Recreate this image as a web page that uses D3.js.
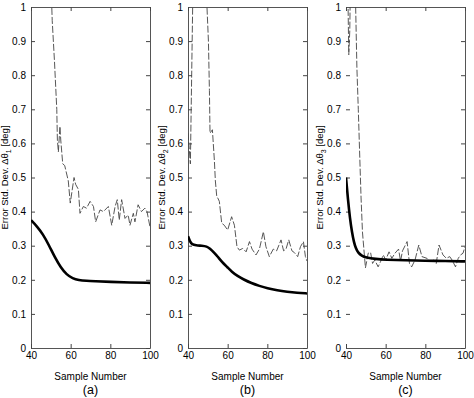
<!DOCTYPE html>
<html>
<head>
<meta charset="utf-8">
<script src="https://cdn.jsdelivr.net/npm/d3@7"></script>
<style>
  body { margin: 0; background: #fff; }
  svg { font-family: "Liberation Sans", Arial, Helvetica, sans-serif; }
  .tick text { font-size: 10px; fill: #000; }
</style>
</head>
<body>
<div class="chart"></div>
<script>
// tick labels
const xTicks = [40, 60, 80, 100]
const yTicks = [0, 0.1, 0.2, 0.3, 0.4, 0.5, 0.6, 0.7, 0.8, 0.9, 1]
const panelLabels = ['(a)', '(b)', '(c)']
const subscripts = ['1', '2', '3']

// (a) measured error (dashed) and predicted (thick)
const aDashX = [50.2, 50.7, 51.8, 53.0, 53.3, 53.8, 54.6, 55.0, 56.0, 57.0, 58.8, 59.8, 61.7, 62.5, 63.9, 64.7, 66.4, 68, 69.8, 71.5, 72.6, 74.8, 76.5, 79, 80.7, 82.4, 83.5, 84.5, 85.7, 87.4, 89, 89.9, 91.6, 92.4, 94, 95.7, 97.4, 98.5, 100]
const aDashY = [1.05, 0.96, 0.845, 0.70, 0.61, 0.575, 0.65, 0.61, 0.54, 0.535, 0.49, 0.425, 0.50, 0.48, 0.465, 0.395, 0.415, 0.41, 0.43, 0.415, 0.37, 0.405, 0.40, 0.415, 0.36, 0.415, 0.435, 0.375, 0.435, 0.38, 0.39, 0.36, 0.395, 0.37, 0.42, 0.40, 0.41, 0.40, 0.355]
const aFitX = [40, 43, 46, 49, 52, 55, 58, 61, 64, 68, 72, 80, 90, 100]
const aFitY = [0.375, 0.357, 0.334, 0.302, 0.266, 0.236, 0.215, 0.204, 0.199, 0.197, 0.196, 0.194, 0.192, 0.191]

// (b)
const bDashX = [40, 41.2, 42.6, 49.2, 50.3, 50.8, 51.1, 52.3, 53.3, 53.8, 54.5, 55, 55.8, 57, 58.3, 60, 62, 63.4, 64.7, 65.9, 67.6, 69.3, 71, 72.3, 74.3, 76, 78, 79.3, 81, 83, 84.7, 86.9, 88.2, 89.4, 90.8, 92.4, 93.6, 95.3, 96.7, 98.2, 99.2, 100]
const bDashY = [0.63, 0.54, 1.1, 1.05, 0.9, 0.755, 0.63, 0.64, 0.55, 0.49, 0.444, 0.44, 0.43, 0.366, 0.36, 0.346, 0.385, 0.36, 0.297, 0.287, 0.292, 0.282, 0.312, 0.29, 0.273, 0.29, 0.341, 0.297, 0.268, 0.29, 0.285, 0.317, 0.285, 0.29, 0.317, 0.285, 0.28, 0.268, 0.297, 0.312, 0.268, 0.255]
const bFitX = [40, 41, 42, 44, 47, 49.5, 51, 53, 55, 57, 60, 62, 65, 68, 72, 76, 80, 85, 90, 95, 100]
const bFitY = [0.328, 0.312, 0.304, 0.301, 0.30, 0.298, 0.292, 0.281, 0.268, 0.253, 0.236, 0.224, 0.211, 0.201, 0.19, 0.182, 0.175, 0.169, 0.165, 0.162, 0.160]

// (c)
const cDashX = [40.8, 41.4, 41.9, 42.3, 44.8, 45.5, 46.2, 47.1, 47.6, 48.3, 49.8, 51.2, 52.4, 53.4, 54.5, 56.2, 57.4, 58.8, 60, 61.7, 63.1, 64.7, 66.5, 67.5, 68.5, 70.8, 72, 73.1, 74.8, 76.7, 78.3, 80.8, 82.4, 84.2, 85.5, 86.9, 88.9, 90.6, 92.3, 93.5, 95.2, 96.6, 97.8, 99, 100]
const cDashY = [1.1, 0.86, 0.93, 1.1, 1.02, 0.82, 0.70, 0.53, 0.44, 0.34, 0.235, 0.278, 0.28, 0.248, 0.258, 0.238, 0.253, 0.273, 0.258, 0.282, 0.263, 0.278, 0.29, 0.255, 0.285, 0.312, 0.248, 0.238, 0.258, 0.302, 0.268, 0.263, 0.253, 0.258, 0.248, 0.302, 0.273, 0.263, 0.268, 0.258, 0.238, 0.263, 0.273, 0.278, 0.297]
const cFitX = [40, 41, 42, 43, 44, 45, 46, 48, 50, 55, 60, 70, 80, 90, 100]
const cFitY = [0.50, 0.435, 0.38, 0.34, 0.31, 0.292, 0.28, 0.27, 0.265, 0.261, 0.259, 0.257, 0.256, 0.255, 0.254]

const panels = [
  { dx: aDashX, dy: aDashY, fx: aFitX, fy: aFitY, left: 31, leftLine: true },
  { dx: bDashX, dy: bDashY, fx: bFitX, fy: bFitY, left: 188, leftLine: true },
  { dx: cDashX, dy: cDashY, fx: cFitX, fy: cFitY, left: 346, leftLine: false }
]

const W = 474, H = 398
const plotTop = 7, plotBottom = 348, pw = 119

const svg = d3.select('.chart')
  .append('svg')
  .attr('width', W)
  .attr('height', H)

panels.forEach((p, i) => {
  const g = svg.append('g')
    .attr('transform', `translate(${p.left}, ${plotTop})`)
  const h = plotBottom - plotTop

  const xScale = d3.scaleLinear().domain([40, 100]).range([0, pw])
  const yScale = d3.scaleLinear().domain([0, 1]).range([h, 0])

  // clip so off-scale parts are hidden
  g.append('clipPath').attr('id', 'clip' + i)
    .append('rect').attr('width', pw).attr('height', h)

  // axes, MATLAB style inward ticks
  const yAxis = g.append('g')
    .call(d3.axisLeft(yScale).tickValues(yTicks).tickSizeInner(-4).tickSizeOuter(0)
      .tickPadding(5).tickFormat(d3.format('~g')))
  if (!p.leftLine) yAxis.select('.domain').remove()

  g.append('g')
    .attr('transform', `translate(0, ${h})`)
    .call(d3.axisBottom(xScale).tickValues(xTicks).tickSizeInner(-4).tickSizeOuter(0).tickPadding(4))

  g.append('g')
    .attr('transform', `translate(${pw}, 0)`)
    .call(d3.axisRight(yScale).tickValues(yTicks).tickSizeInner(-4).tickSizeOuter(0).tickFormat(''))

  g.append('g')
    .call(d3.axisTop(xScale).tickValues(xTicks).tickSizeInner(-4).tickSizeOuter(0).tickFormat(''))

  g.selectAll('.domain').attr('stroke', '#555').attr('stroke-width', 1)
  g.selectAll('.tick line').attr('stroke', '#444')

  const lines = g.append('g').attr('clip-path', `url(#clip${i})`)

  const dashLine = d3.line()
    .x((d, j) => xScale(p.dx[j]))
    .y(d => yScale(d))

  lines.append('path')
    .datum(p.dy)
    .attr('d', dashLine)
    .attr('fill', 'none')
    .attr('stroke', '#444')
    .attr('stroke-width', 0.9)
    .attr('stroke-dasharray', '7,2')

  const fitLine = d3.line()
    .x((d, j) => xScale(p.fx[j]))
    .y(d => yScale(d))
    .curve(d3.curveBasis)

  lines.append('path')
    .datum(p.fy)
    .attr('d', fitLine)
    .attr('fill', 'none')
    .attr('stroke', '#000')
    .attr('stroke-width', 2.6)

  // axis titles
  svg.append('text')
    .attr('x', p.left + pw / 2)
    .attr('y', 380)
    .attr('text-anchor', 'middle')
    .style('font-size', '10px')
    .text('Sample Number')

  svg.append('text')
    .attr('x', p.left + pw / 2)
    .attr('y', 394)
    .attr('text-anchor', 'middle')
    .style('font-size', '12.5px')
    .text(panelLabels[i])

  const yl = svg.append('text')
    .attr('transform', `translate(${p.left - 23}, ${(plotTop + plotBottom) / 2}) rotate(-90)`)
    .attr('text-anchor', 'middle')
    .style('font-size', '9.5px')
  yl.append('tspan').text('Error Std. Dev. Δθ')
  yl.append('tspan').attr('dy', 3).style('font-size', '7px').text(subscripts[i])
  yl.append('tspan').attr('dy', -3).text(' [deg]')
})
</script>
</body>
</html>
